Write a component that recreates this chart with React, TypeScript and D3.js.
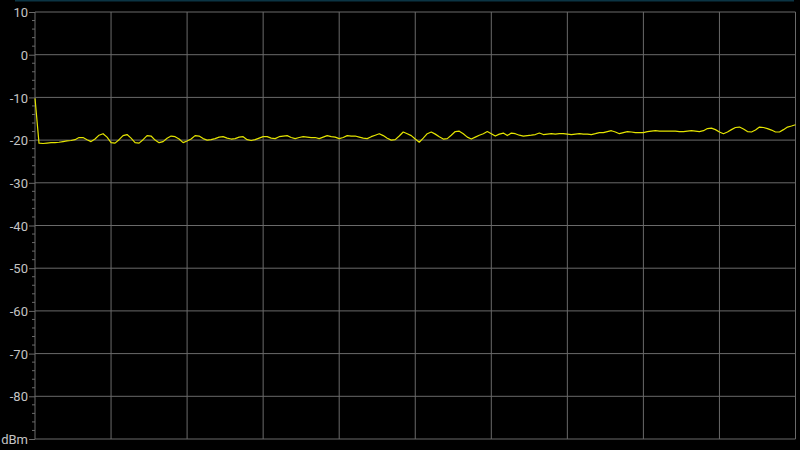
import { useEffect, useRef } from "react";
import * as d3 from "d3";

const WIDTH = 800;
const HEIGHT = 450;
const MARGIN = { top: 12, right: 4.5, bottom: 11, left: 35 };

// y axis (dBm) – ref level 10, 10 dB / div
const yTicks = [10, 0, -10, -20, -30, -40, -50, -60, -70, -80];
const yUnit = "dBm";
const yRange: [number, number] = [-90, 10];
const horizDivisions = 10;

const levels = [
  -10.2, -20.7, -20.8, -20.7, -20.6, -20.6, -20.5, -20.35, -20.2, -20.1,
  -19.9, -19.4, -19.4, -19.9, -20.35, -19.75, -18.85, -18.5, -19.3, -20.6,
  -20.7, -19.9, -18.95, -18.7, -19.55, -20.6, -20.7, -19.9, -18.95, -19.05,
  -20, -20.6, -20.35, -19.55, -19.05, -19.2, -19.75, -20.6, -20.2, -19.75,
  -18.95, -19.05, -19.65, -20, -19.9, -19.65, -19.3, -19.2, -19.55, -19.75,
  -19.65, -19.3, -19.2, -19.9, -20.1, -19.9, -19.55, -19.2, -19.2, -19.55,
  -19.65, -19.2, -19.05, -18.95, -19.4, -19.65, -19.4, -19.2, -19.3, -19.4,
  -19.4, -19.65, -19.3, -18.95, -19.2, -19.3, -19.65, -19.4, -18.95, -19.05,
  -19.05, -19.3, -19.55, -19.65, -19.2, -18.85, -18.5, -18.95, -19.55, -20,
  -19.9, -19.05, -18.1, -18.5, -18.95, -19.75, -20.5, -19.55, -18.5, -18.1,
  -18.6, -19.2, -19.75, -19.65, -18.85, -18, -17.9, -18.5, -19.3, -19.75,
  -19.3, -18.85, -18.5, -18, -18.5, -19.05, -18.6, -18.35, -18.95, -18.35,
  -18.5, -18.85, -19.05, -18.95, -18.85, -18.7, -18.35, -18.7, -18.6, -18.5,
  -18.6, -18.5, -18.5, -18.6, -18.7, -18.6, -18.5, -18.6, -18.6, -18.7,
  -18.5, -18.25, -18.25, -18, -17.8, -18.1, -18.5, -18.25, -18, -18.1,
  -18.25, -18.25, -18.25, -18, -17.9, -17.8, -17.9, -17.9, -17.9, -17.9,
  -17.9, -18, -18, -17.9, -17.8, -17.9, -18, -17.8, -17.3, -17.2,
  -17.55, -18.1, -18.5, -18.1, -17.55, -17.05, -16.95, -17.4, -18, -18.1,
  -17.65, -16.95, -17.05, -17.3, -17.65, -18.1, -18.1, -17.55, -16.95, -16.7,
  -16.4,
];

export default function App() {
  const axesRef = useRef(null);
  const boundsWidth = WIDTH - MARGIN.left - MARGIN.right;
  const boundsHeight = HEIGHT - MARGIN.top - MARGIN.bottom;

  const yScale = d3.scaleLinear().domain(yRange).range([boundsHeight, 0]);
  const divScale = d3.scaleLinear().domain([0, horizDivisions]).range([0, boundsWidth]);
  const xScale = d3.scaleLinear().domain([0, levels.length - 1]).range([0, boundsWidth]);

  useEffect(() => {
    const g = d3.select(axesRef.current);
    g.selectAll("*").remove();

    // minor ticks every 2 dB
    const minor = d3.range(yRange[0], yRange[1] + 0.1, 2).filter((v) => v % 10 !== 0);
    g.append("g")
      .selectAll("line")
      .data(minor)
      .join("line")
      .attr("x1", -3)
      .attr("x2", 0)
      .attr("y1", (d) => yScale(d))
      .attr("y2", (d) => yScale(d))
      .attr("stroke", "#6a6a6a")
      .attr("stroke-width", 1);

    const yAxis = d3
      .axisLeft(yScale)
      .tickValues([...yTicks, yRange[0]])
      .tickSize(6)
      .tickPadding(1)
      //@ts-ignore
      .tickFormat((d) => (d === yRange[0] ? yUnit : String(d)));

    const ax = g.append("g").call(yAxis);
    ax.select(".domain").remove();
    ax.selectAll(".tick line").attr("stroke", "#6a6a6a");
    ax.selectAll(".tick text")
      .attr("fill", "#c4c4c4")
      .attr("font-size", 13)
      .attr("font-family", '"Roboto", "sans-serif"')
      .attr("dy", "0.36em");
  }, []);

  const linePath = d3
    .line<number>()
    .x((_, i) => xScale(i))
    .y((d) => yScale(d))(levels);

  return (
    <div style={{ position: "fixed", left: 0, top: 0 }}>
      <svg width={WIDTH} height={HEIGHT} style={{ display: "block", background: "#000" }}>
        <rect x={15} y={0} width={779} height={1.5} fill="#0b3444" />
        <g transform={`translate(${MARGIN.left},${MARGIN.top})`}>
          {d3.range(0, horizDivisions + 1).map((k) => (
            <line
              key={"v" + k}
              x1={divScale(k)}
              x2={divScale(k)}
              y1={0}
              y2={boundsHeight}
              stroke="#6a6a6a"
              strokeWidth={1}
            />
          ))}
          {[...yTicks, yRange[0]].map((v) => (
            <line
              key={"h" + v}
              x1={0}
              x2={boundsWidth}
              y1={yScale(v)}
              y2={yScale(v)}
              stroke="#6a6a6a"
              strokeWidth={1}
            />
          ))}
          <path d={linePath ?? ""} stroke="#e4e400" fill="none" strokeWidth={1.2} strokeLinejoin="round" />
        </g>
        <g ref={axesRef} transform={`translate(${MARGIN.left},${MARGIN.top})`} />
      </svg>
    </div>
  );
}
